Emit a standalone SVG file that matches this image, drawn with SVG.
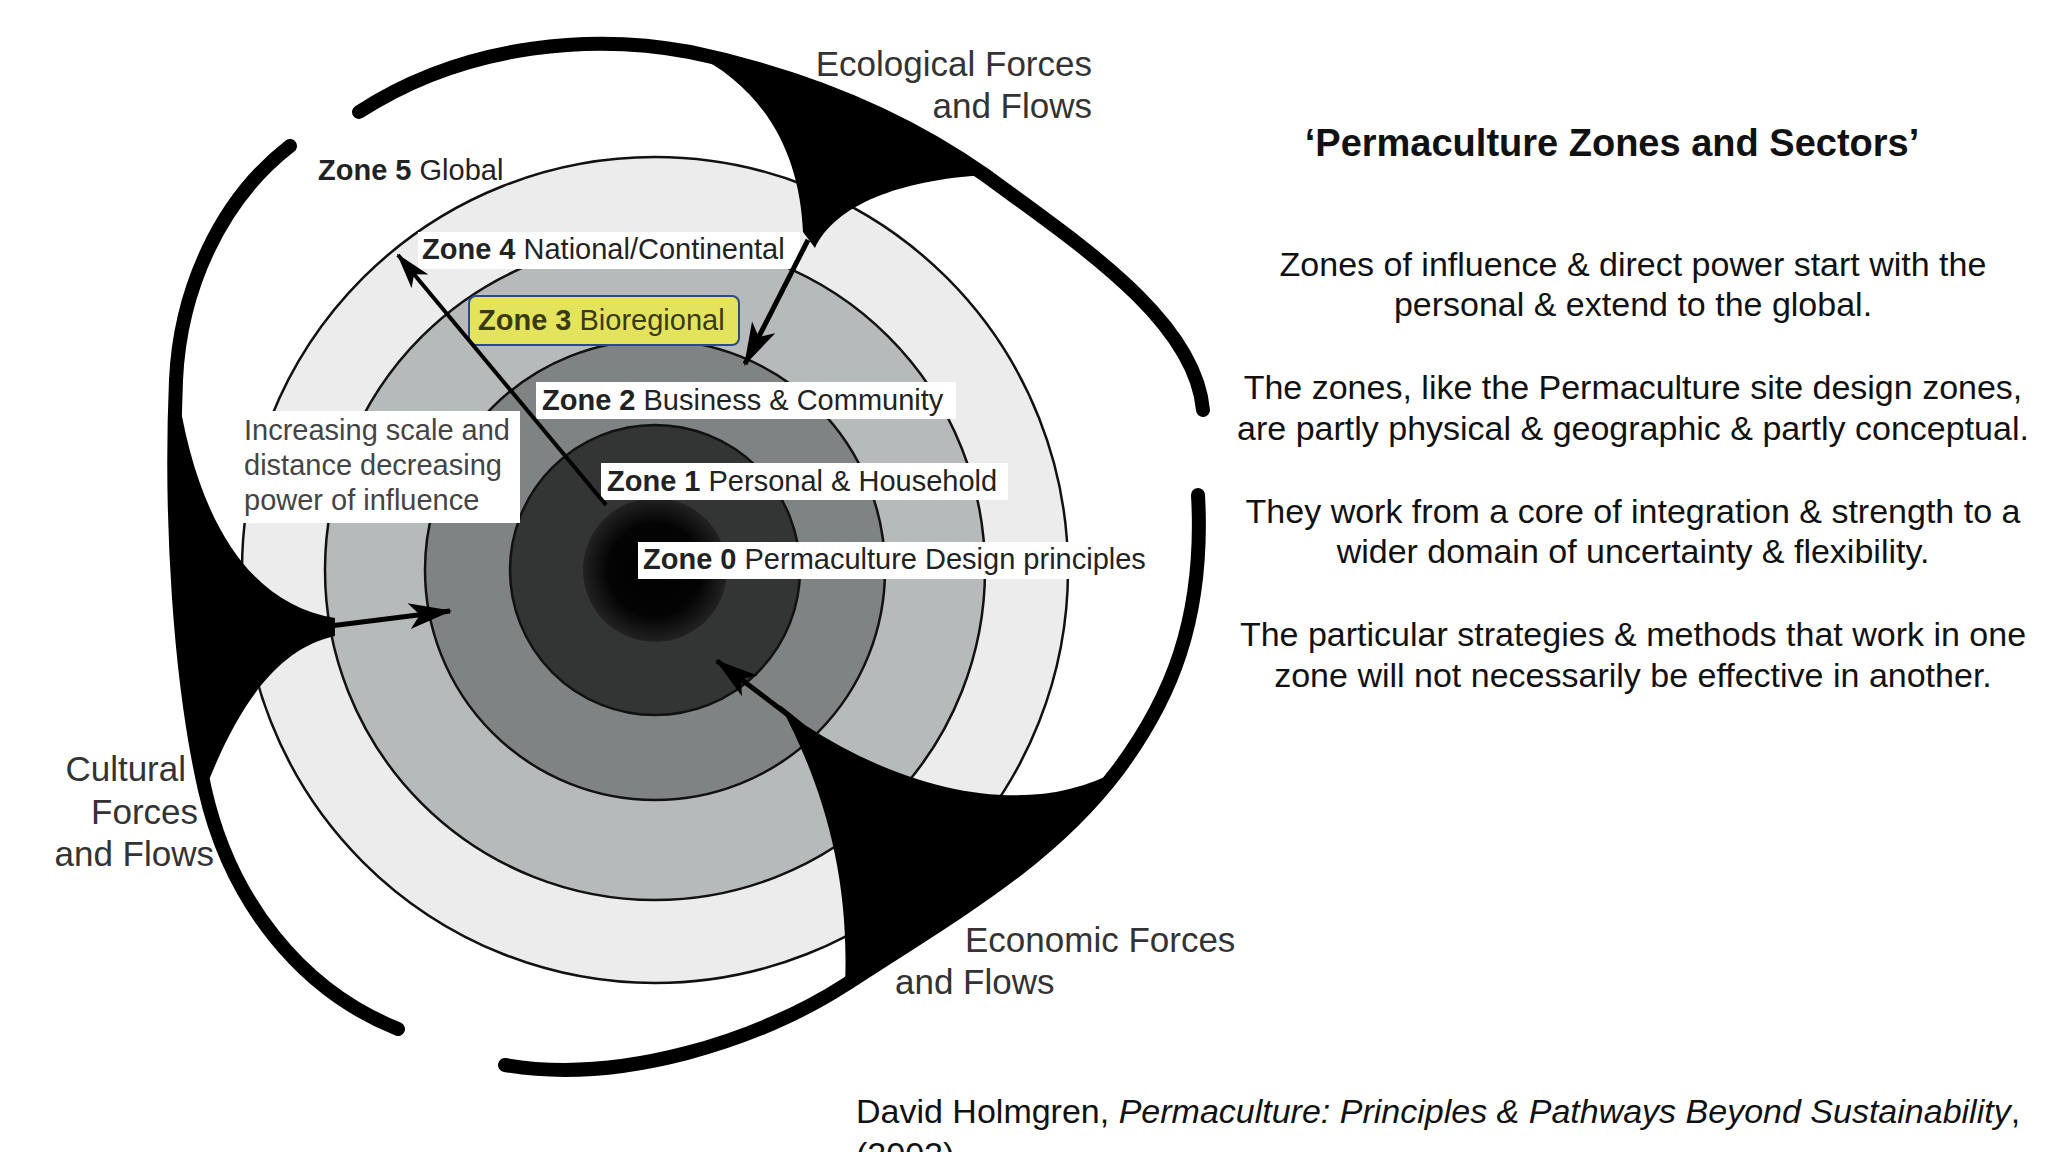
<svg xmlns="http://www.w3.org/2000/svg" width="2048" height="1152" viewBox="0 0 2048 1152">
<defs>
<style>
.lbl{font-family:"Liberation Sans",Arial,sans-serif;font-size:29px;fill:#222}
.b{font-weight:bold}
.force{font-family:"Liberation Sans",Arial,sans-serif;font-size:35px;fill:#333}
.note{font-family:"Liberation Sans",Arial,sans-serif;font-size:29px;fill:#444}
.body{font-family:"Liberation Sans",Arial,sans-serif;font-size:34px;fill:#111;text-anchor:middle}
.ring{stroke:#111;stroke-width:2.5}
.arc{fill:none;stroke:#000;stroke-width:14;stroke-linecap:round}
.shaft{fill:none;stroke:#000;stroke-width:5}
.box{fill:#fff}
</style>
<radialGradient id="core" cx="0.5" cy="0.5" r="0.5">
<stop offset="0" stop-color="#000"/><stop offset="0.65" stop-color="#040404"/><stop offset="1" stop-color="#222"/>
</radialGradient>
<marker id="ah" viewBox="0 0 20 12" refX="19" refY="6" markerUnits="userSpaceOnUse" markerWidth="44" markerHeight="26" orient="auto">
<path d="M0,0 L20,6 L0,12 L5,6 Z" fill="#000"/>
</marker>
<marker id="ah2" viewBox="0 0 20 12" refX="19" refY="6" markerUnits="userSpaceOnUse" markerWidth="36" markerHeight="22" orient="auto">
<path d="M0,0 L20,6 L0,12 L5,6 Z" fill="#000"/>
</marker>
</defs>
<rect width="2048" height="1152" fill="#fff"/>

<g id="zones">
<circle class="ring" cx="655" cy="570" r="413" fill="#ececec"/>
<circle class="ring" cx="655" cy="570" r="330" fill="#b6baba"/>
<circle class="ring" cx="655" cy="570" r="230" fill="#7f8383"/>
<circle class="ring" cx="655" cy="570" r="145" fill="#333434"/>
<circle cx="655" cy="570" r="72" fill="url(#core)"/>
</g>

<g id="zone5"><text class="lbl" x="318" y="180"><tspan class="b">Zone 5</tspan> Global</text></g>
<g id="zone4"><rect class="box" x="418" y="232" width="382" height="37"/><text class="lbl" x="422" y="259"><tspan class="b">Zone 4</tspan> National/Continental</text></g>
<g id="zone3"><rect x="469" y="296" width="270" height="49" rx="7" fill="#e4e45c" stroke="#2b4a86" stroke-width="2"/><text class="lbl" x="478" y="330" style="fill:#3a3a12"><tspan class="b">Zone 3</tspan> Bioregional</text></g>
<g id="zone2"><rect class="box" x="536" y="382" width="420" height="37"/><text class="lbl" x="542" y="410"><tspan class="b">Zone 2</tspan> Business &amp; Community</text></g>
<g id="zone1"><rect class="box" x="601" y="463" width="407" height="37"/><text class="lbl" x="607" y="491"><tspan class="b">Zone 1</tspan> Personal &amp; Household</text></g>
<g id="zone0"><rect class="box" x="638" y="542" width="520" height="37"/><text class="lbl" x="643" y="569"><tspan class="b">Zone 0</tspan> Permaculture Design principles</text></g>
<g id="note"><rect class="box" x="236" y="411" width="284" height="112"/>
<text class="note" x="244" y="440">Increasing scale and</text>
<text class="note" x="244" y="475">distance decreasing</text>
<text class="note" x="244" y="510">power of influence</text></g>

<g id="connectors">
<path class="arc" d="M359,112 C470,40 600,35 690,52 C800,75 900,115 985,175 C1080,245 1195,320 1203,410"/>
<path d="M690,52 C770,90 800,160 803,232 L815,248 C835,205 900,180 985,175 C900,115 800,75 690,52 Z" fill="#000"/>
<path class="shaft" d="M808,240 L745,364" marker-end="url(#ah)"/>

<path class="arc" d="M290,146 C220,200 180,290 176,380 C170,520 180,680 205,790 C230,900 300,990 398,1029"/>
<path d="M176,380 C195,520 250,605 335,618 L335,636 C280,648 240,700 205,790 C180,680 170,520 176,380 Z" fill="#000"/>
<path class="shaft" d="M330,626 L450,611" marker-end="url(#ah)"/>

<path class="arc" d="M1198,495 C1205,620 1170,700 1118,770 C1050,860 960,910 845,985 C760,1040 620,1085 505,1065"/>
<path d="M1118,770 C1040,815 920,800 805,725 L780,705 C820,780 850,870 845,985 C960,910 1050,860 1118,770 Z" fill="#000"/>
<path class="shaft" d="M792,718 L717,661" marker-end="url(#ah)"/>

<path d="M606,505 L398,255" fill="none" stroke="#000" stroke-width="4" marker-end="url(#ah2)"/>
</g>

<g id="ecological"><text class="force" text-anchor="end" x="1092" y="76">Ecological Forces</text><text class="force" text-anchor="end" x="1092" y="118">and Flows</text></g>
<g id="cultural"><text class="force" text-anchor="end" x="186" y="781">Cultural</text><text class="force" text-anchor="end" x="198" y="824">Forces</text><text class="force" text-anchor="end" x="214" y="866">and Flows</text></g>
<g id="economic"><text class="force" x="965" y="952">Economic Forces</text><text class="force" x="895" y="994">and Flows</text></g>

<g id="text">
<text class="body" x="1612" y="156" style="font-weight:bold;font-size:38px">‘Permaculture Zones and Sectors’</text>
<text class="body" x="1633" y="276">Zones of influence &amp; direct power start with the</text>
<text class="body" x="1633" y="316">personal &amp; extend to the global.</text>
<text class="body" x="1633" y="399">The zones, like the Permaculture site design zones,</text>
<text class="body" x="1633" y="440">are partly physical &amp; geographic &amp; partly conceptual.</text>
<text class="body" x="1633" y="523">They work from a core of integration &amp; strength to a</text>
<text class="body" x="1633" y="563">wider domain of uncertainty &amp; flexibility.</text>
<text class="body" x="1633" y="646">The particular strategies &amp; methods that work in one</text>
<text class="body" x="1633" y="687">zone will not necessarily be effective in another.</text>
<text class="body" x="856" y="1123" style="text-anchor:start">David Holmgren, <tspan font-style="italic">Permaculture: Principles &amp; Pathways Beyond Sustainability</tspan>,</text>
<text class="body" x="856" y="1166" style="text-anchor:start">(2002)</text>
</g>
</svg>
